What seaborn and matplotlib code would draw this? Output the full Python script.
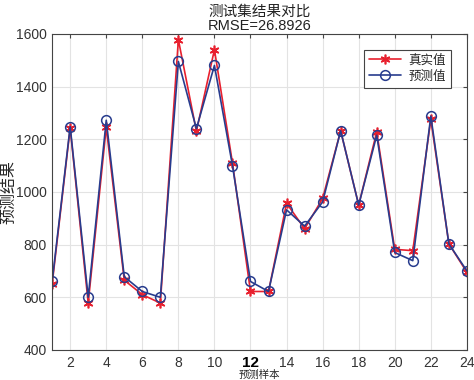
import numpy as np
import pandas as pd
import matplotlib
matplotlib.use("Agg")
import matplotlib.pyplot as plt
import seaborn as sns

# values
samples = list(range(1, 25))
true_vals = [650, 1242, 578, 1245, 665, 610, 578, 1578, 1230, 1540, 1110, 622,
             622, 957, 860, 975, 1232, 950, 1228, 782, 777, 1275, 803, 695]
pred_vals = [660, 1248, 600, 1272, 678, 622, 600, 1495, 1240, 1480, 1100, 660,
             622, 932, 870, 962, 1232, 950, 1215, 770, 739, 1288, 803, 700]
rmse_text = "RMSE=26.8926"
x_ticks = list(range(2, 25, 2))

sns.set_style("whitegrid")
plt.rcParams['font.family'] = ['Liberation Sans', 'Noto Sans CJK SC', 'DejaVu Sans']
plt.rcParams['axes.unicode_minus'] = False

df = pd.DataFrame({"样本": samples * 2,
                   "值": true_vals + pred_vals,
                   "类别": ["真实值"] * len(samples) + ["预测值"] * len(samples)})

fig = plt.figure(figsize=(4.74, 3.8), dpi=100)
ax = fig.add_axes([0.11, 0.079, 0.875, 0.832])

red = "#e8202e"
blue = "#283c8e"

sns.lineplot(data=df[df["类别"] == "真实值"], x="样本", y="值", ax=ax,
             color=red, marker=(6, 2, 0), markersize=7, markeredgecolor=red,
             markeredgewidth=1.2, linewidth=1.2, label="真实值")
sns.lineplot(data=df[df["类别"] == "预测值"], x="样本", y="值", ax=ax,
             color=blue, marker="o", markersize=7, markerfacecolor="none",
             markeredgecolor=blue, markeredgewidth=1.1,
             linewidth=1.2, label="预测值")

ax.set_xlim(1, 24)
ax.set_ylim(400, 1600)
ax.set_xticks(x_ticks)
ax.set_yticks(range(400, 1601, 200))
ax.grid(True, color="#e3e3e3", linewidth=0.8)
for s in ax.spines.values():
    s.set_color("#444444")
    s.set_linewidth(0.8)
ax.tick_params(axis="both", which="both", direction="in", length=3,
               top=True, right=True, labelsize=10, colors="#444444",
               labelcolor="#333333", pad=4)
for lbl in ax.get_xticklabels():
    if lbl.get_text() == "12":
        lbl.set_fontweight("bold")
        lbl.set_fontsize(11)
        lbl.set_color("black")

ax.set_xlabel("预测样本", fontsize=7.5)
ax.xaxis.set_label_coords(0.5, -0.064)
ax.set_ylabel("预测结果", fontsize=11.5)
ax.yaxis.set_label_coords(-0.086, 0.5)
ax.set_title("测试集结果对比\n" + rmse_text, fontsize=10.5, linespacing=1.0,
             pad=3, color="#222222")

leg = ax.legend(loc="upper right", fontsize=9, frameon=True, fancybox=False,
                edgecolor="#444444", framealpha=1, handlelength=2.6,
                borderpad=0.4, labelspacing=0.3, handletextpad=0.6,
                bbox_to_anchor=(0.977, 0.97))
leg.get_frame().set_linewidth(0.8)

fig.savefig("out.png", dpi=100)
